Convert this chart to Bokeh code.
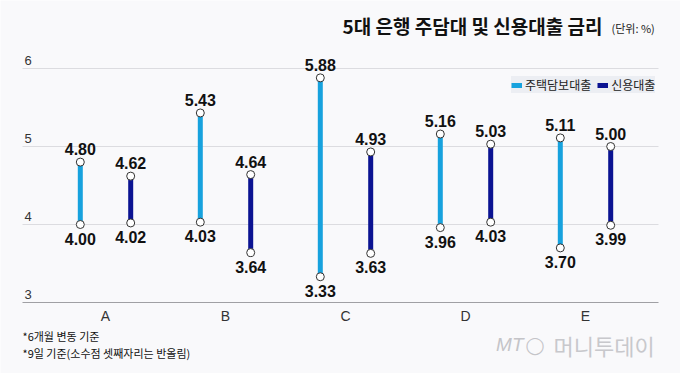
from bokeh.plotting import figure
from bokeh.models import ColumnDataSource, Label, Legend, LegendItem
from bokeh.embed import file_html
from bokeh.resources import INLINE
from bokeh.core.properties import value

banks = ["A", "B", "C", "D", "E"]
mort_high = [4.80, 5.43, 5.88, 5.16, 5.11]
mort_low = [4.00, 4.03, 3.33, 3.96, 3.70]
cred_high = [4.62, 4.64, 4.93, 5.03, 5.00]
cred_low = [4.02, 3.64, 3.63, 4.03, 3.99]
y_ticks = [3, 4, 5, 6]
series_names = ["주택담보대출", "신용대출"]

BG = "#f9f9fb"
C_MORT = "#17a2de"
C_CRED = "#0b1392"
NUM_FONT = "Liberation Sans"
KR_FONT = "Noto Sans CJK KR"

W, H = 680, 373
# layout geometry (pixels): category spacing, first category position, unit height, baseline
PX_CAT, X0_PX = 120.0, 105.0
PX_UNIT, Y3_PX = 78.0, 302.0
PLOT_L, PLOT_R = 22.0, 658.0


def dx(px):
    return (px - X0_PX) / PX_CAT


def dy(py):
    return y_ticks[0] + (Y3_PX - py) / PX_UNIT


p = figure(width=W, height=H, output_backend="svg", toolbar_location=None,
           x_range=(dx(0), dx(W)), y_range=(dy(H), dy(0)),
           min_border=0, background_fill_color=BG, border_fill_color=BG, outline_line_color=None)
p.axis.visible = False
p.grid.visible = False

idx = list(range(len(banks)))
off = 0.21
x_mort = [i - off for i in idx]
x_cred = [i + off for i in idx]
xl, xr = dx(PLOT_L), dx(PLOT_R)

# gridlines and base axis line
gsrc = ColumnDataSource(dict(x0=[xl] * (len(y_ticks) - 1), x1=[xr] * (len(y_ticks) - 1), y=y_ticks[1:]))
p.segment("x0", "y", "x1", "y", source=gsrc, line_color="#dcdce0", line_width=1)
p.segment(x0=[xl], y0=[y_ticks[0]], x1=[xr], y1=[y_ticks[0]], line_color="#a0a0a4", line_width=1.2)

# y tick labels above gridlines
tsrc = ColumnDataSource(dict(x=[xl] * len(y_ticks), y=y_ticks, t=[str(v) for v in y_ticks]))
p.text("x", "y", text="t", source=tsrc, text_font=value("Liberation Sans"), text_font_size="13px",
       text_color="#333333", x_offset=2, y_offset=-4, text_baseline="bottom", text_align="left")

# category labels under axis
csrc = ColumnDataSource(dict(x=idx, y=[y_ticks[0]] * len(banks), t=banks))
p.text("x", "y", text="t", source=csrc, text_font=value("Liberation Sans"), text_font_size="14px",
       text_color="#333333", text_align="center", text_baseline="middle", y_offset=13)

src_m = ColumnDataSource(dict(x=x_mort, hi=mort_high, lo=mort_low,
                              th=[f"{v:.2f}" for v in mort_high], tl=[f"{v:.2f}" for v in mort_low]))
src_c = ColumnDataSource(dict(x=x_cred, hi=cred_high, lo=cred_low,
                              th=[f"{v:.2f}" for v in cred_high], tl=[f"{v:.2f}" for v in cred_low]))

r_m = p.segment("x", "lo", "x", "hi", source=src_m, line_color=C_MORT, line_width=5)
r_c = p.segment("x", "lo", "x", "hi", source=src_c, line_color=C_CRED, line_width=5)

for src in (src_m, src_c):
    for fld in ("hi", "lo"):
        p.scatter("x", fld, source=src, size=8, fill_color="white", line_color="#333333", line_width=1)
    p.text("x", "hi", text="th", source=src, text_font=value(NUM_FONT), text_font_style="bold",
           text_font_size="16px", text_color="#111111", text_align="center", text_baseline="middle",
           y_offset=-13)
    p.text("x", "lo", text="tl", source=src, text_font=value(NUM_FONT), text_font_style="bold",
           text_font_size="16px", text_color="#111111", text_align="center", text_baseline="middle",
           y_offset=14)

legend = Legend(items=[LegendItem(label=series_names[0], renderers=[r_m]),
                       LegendItem(label=series_names[1], renderers=[r_c])],
                orientation="horizontal", location=(511, H - 93),
                background_fill_color="#eceef3", background_fill_alpha=1,
                border_line_color=None, label_text_font=KR_FONT, label_text_font_size="12px",
                label_text_color="#222222", glyph_width=11, glyph_height=12,
                padding=5, spacing=6, label_standoff=3, margin=0, label_height=12)
p.add_layout(legend)

p.add_layout(Label(x=dx(602), y=dy(25), text="5대 은행 주담대 및 신용대출 금리",
                   text_font=KR_FONT, text_font_style="bold", text_font_size="19px",
                   text_color="#111111", text_align="right", text_baseline="middle"))
p.add_layout(Label(x=dx(611), y=dy(27), text="(단위: %)",
                   text_font=KR_FONT, text_font_size="11px", text_color="#222222",
                   text_align="left", text_baseline="middle"))
p.add_layout(Label(x=dx(22), y=dy(335), text="*6개월 변동 기준",
                   text_font=KR_FONT, text_font_size="11px", text_color="#111111",
                   text_align="left", text_baseline="middle"))
p.add_layout(Label(x=dx(22), y=dy(352), text="*9일 기준(소수점 셋째자리는 반올림)",
                   text_font=KR_FONT, text_font_size="11px", text_color="#111111",
                   text_align="left", text_baseline="middle"))
p.add_layout(Label(x=dx(523), y=dy(344), text="MT",
                   text_font="Liberation Sans", text_font_style="italic", text_font_size="19px",
                   text_color="#c4c4c8", text_align="right", text_baseline="middle"))
p.add_layout(Label(x=dx(525), y=dy(344), text="◯",
                   text_font="DejaVu Sans", text_font_size="17px",
                   text_color="#c4c4c8", text_align="left", text_baseline="middle"))
p.add_layout(Label(x=dx(553), y=dy(344), text="머니투데이",
                   text_font=KR_FONT, text_font_size="22px", text_color="#c8c8cc",
                   text_align="left", text_baseline="middle"))

open("out.html", "w").write(file_html(p, INLINE))
